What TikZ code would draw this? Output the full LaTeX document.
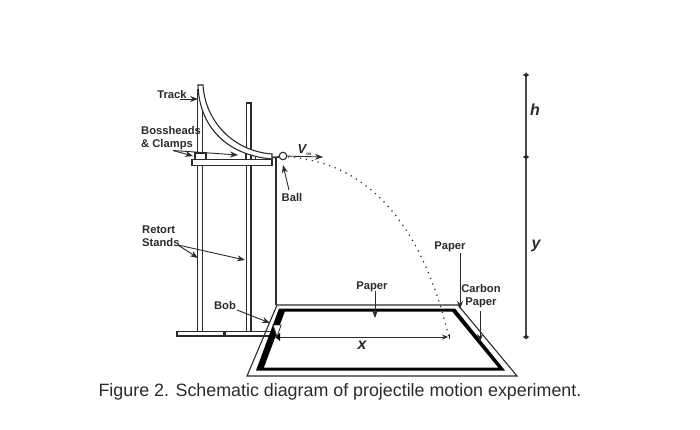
\documentclass[tikz,border=0pt]{standalone}
\usepackage{fontspec}
\setmainfont{Liberation Sans}
\usetikzlibrary{arrows.meta}
\definecolor{ink}{HTML}{2B2B2B}
\tikzset{
  lbl/.style={font=\fontsize{11.2}{13}\selectfont\bfseries,text=ink,inner sep=0pt,align=left},
  var/.style={font=\fontsize{16}{16}\selectfont\bfseries\itshape,text=ink,inner sep=0pt},
  pointer/.style={draw=ink,line width=0.9pt,-{Stealth[length=8pt,width=6pt]}},
  part/.style={draw=ink,line width=1.1pt,fill=white},
  dimtick/.style={draw=ink,line width=0.8pt,{Stealth[length=3pt,width=6pt]}-{Stealth[length=3pt,width=6pt]}}
}
\begin{document}
\begin{tikzpicture}[x=1pt,y=-1pt]
\useasboundingbox[fill=white] (0,0) rectangle (700,430);
% stands and bases
\draw[part] (197.5,90) rectangle (202.5,332);
\draw[part] (246.5,103) rectangle (251,332);
\draw[part] (177,331.5) rectangle (224,336);
\draw[part] (225,331.5) rectangle (273,336);
% table edge
\draw[ink,line width=1.1pt] (276,158) -- (276,305);
% clamp plate and clamp
\draw[part] (192,159.5) rectangle (272,165.5);
\draw[part] (195,153) rectangle (206,159.5);
\draw[ink,line width=0.8pt] (245,153) -- (245,159) (255,153) -- (255,159);
% track
\draw[part] (198,85) .. controls (199,125) and (225,155) .. (272,159)
  -- (272,154) .. controls (232,151) and (205,120) .. (203,85) -- cycle;
\draw[ink,line width=1.6pt] (272,157.5) -- (279,157);
% paper
\draw[ink,line width=1.1pt] (277,305) -- (458,305) -- (517,376) -- (247,376) -- cycle;
% carbon paper
\fill[black] (279,308.5) -- (455,308.5) -- (505,370.5) -- (256,370.5) -- cycle;
\fill[white] (285,311.5) -- (452,311.5) -- (498,367.5) -- (264,367.5) -- cycle;
% trajectory
\draw[ink,line width=1.2pt,dash pattern=on 1.2pt off 4.8pt] (288,157) .. controls (366,162) and (422,222) .. (449,338);
% x dimension
\coordinate (xa) at (278,337);
\coordinate (xb) at (448,337);
\draw[ink,line width=0.9pt,-{Stealth[length=6pt,width=5pt]}] (xa) -- (xb);
\draw[ink,line width=0.9pt] (449,334) -- (449,339);
% bob
\fill[black] (275,337) -- (280,333) -- (280,341) -- cycle;
\draw[part,line width=0.8pt] (273,325) -- (281,325) -- (277,337) -- cycle;
% ball and velocity
\node[draw=ink,fill=white,circle,line width=1.1pt,minimum size=7.5pt,inner sep=0pt] (ball) at (283,156) {};
\coordinate (vend) at (323,157);
\draw[pointer] (ball) -- (vend);
\node[var,font=\fontsize{13}{13}\selectfont\bfseries\itshape] (vlabel) at (302,149) {V};
\node[lbl,font=\fontsize{4.5}{4.5}\selectfont\bfseries] (vsub) at (309,154) {ox};
% vertical dimension
\coordinate (dtop) at (526,75);
\coordinate (dmid) at (526,157);
\coordinate (dbot) at (526,337);
\draw[ink!85,line width=1.1pt] (dtop) -- (dbot);
\foreach \c in {dtop,dmid,dbot}{
  \draw[dimtick] ([yshift=-2.5pt]\c) -- ([yshift=2.5pt]\c);
}
\node[var] (h) at (535,109.5) {h};
\node[var] (y) at (536,246) {y};
\node[var] (x) at (362,345) {x};
% labels
\node[lbl] (track) at (172,94) {Track};
\node[lbl,anchor=north west] (boss) at (141,126.5) {Bossheads\\\& Clamps};
\node[lbl] (balllbl) at (292,197.5) {Ball};
\node[lbl,anchor=north west] (retort) at (142,226) {Retort\\Stands};
\node[lbl] (bob) at (225,305.5) {Bob};
\node[lbl] (paperA) at (372,286.5) {Paper};
\node[lbl] (paperB) at (450,246.5) {Paper};
\node[lbl,align=center] (carbon) at (481,296.5) {Carbon\\Paper};
% pointers
\coordinate (t1) at (180,99); \coordinate (t2) at (198,99);
\draw[pointer] (t1) -- (t2);
\coordinate (b0) at (173,150.5); \coordinate (b1) at (193,156); \coordinate (b2) at (238,155);
\draw[pointer] (b0) -- (b1);
\draw[pointer] (b0) -- (b2);
\coordinate (ba1) at (289,190); \coordinate (ba2) at (283,165);
\draw[pointer] (ba1) -- (ba2);
\coordinate (r0) at (178,245); \coordinate (r1) at (198,258); \coordinate (r2) at (245,260);
\draw[pointer] (r0) -- (r1);
\draw[pointer] (r0) -- (r2);
\coordinate (bo1) at (237,310); \coordinate (bo2) at (270,323);
\draw[pointer] (bo1) -- (bo2);
\coordinate (pa1) at (375,291); \coordinate (pa2) at (375,318);
\draw[pointer] (pa1) -- (pa2);
\coordinate (pb1) at (460,253); \coordinate (pb2) at (460,309);
\draw[pointer] (pb1) -- (pb2);
\coordinate (c1) at (480,311); \coordinate (c2) at (480,342);
\draw[pointer] (c1) -- (c2);
% caption
\node[inner sep=0pt,text=ink,font=\fontsize{17.85}{20}\selectfont] (cap) at (340,392) {Figure 2. Schematic diagram of projectile motion experiment.};
\end{tikzpicture}
\end{document}
